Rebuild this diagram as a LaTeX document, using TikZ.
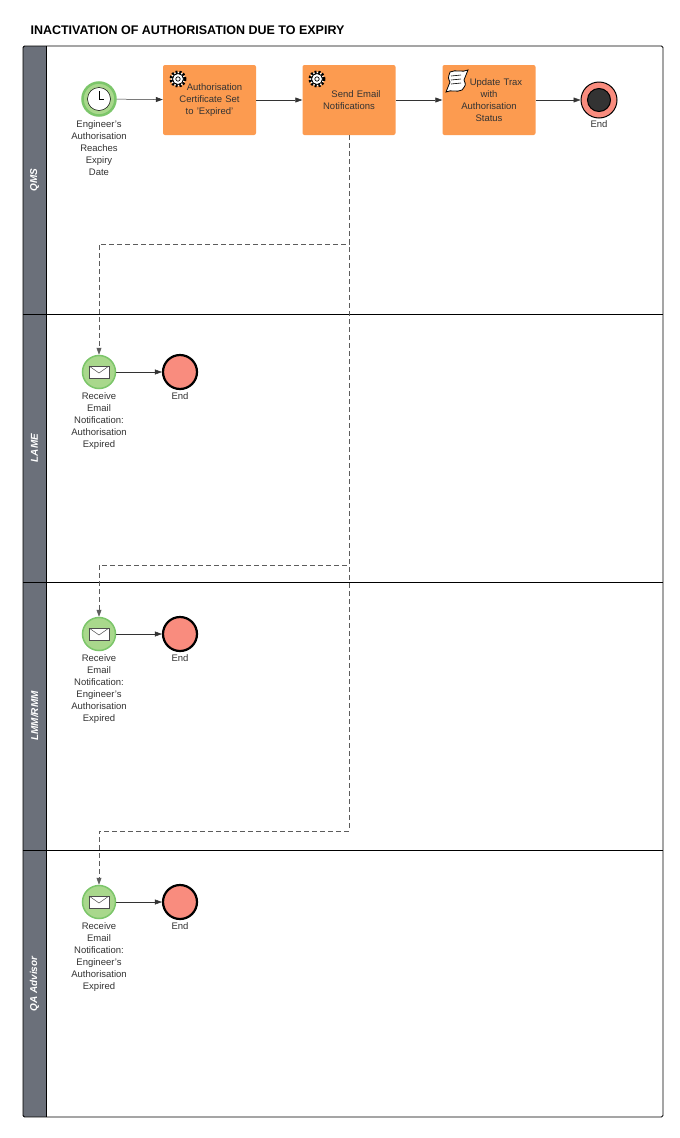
\documentclass[tikz,border=0pt]{standalone}
\usepackage{fontspec}
\setmainfont{Liberation Sans}
\usetikzlibrary{arrows.meta}
\definecolor{lanegrey}{HTML}{6B707A}
\definecolor{taskor}{HTML}{FC9B50}
\definecolor{evgreen}{HTML}{A9D88C}
\definecolor{evgreenb}{HTML}{7CC66A}
\definecolor{endred}{HTML}{F98C7E}
\definecolor{txt}{HTML}{333333}
\begin{document}
\begin{tikzpicture}[x=1pt,y=-1pt,
  lbl/.style={font=\fontsize{9.5}{12}\selectfont,text=txt,align=center},
  task/.style={draw=none,fill=taskor,rounded corners=2pt,minimum width=93pt,minimum height=70pt,lbl,text width=80pt},
  startev/.style={circle,draw=evgreenb,line width=2.5pt,fill=evgreen,minimum size=33pt,inner sep=0},
  endev/.style={circle,draw=black,line width=2.2pt,fill=endred,minimum size=34pt,inner sep=0},
  flow/.style={draw=txt,line width=0.5pt,-{Triangle[length=7pt,width=5pt]}},
  msg/.style={draw=txt!80,line width=0.6pt,dash pattern=on 5pt off 3pt,-{Triangle[length=7pt,width=5pt]}},
  lanetxt/.style={rotate=90,text=white,font=\fontsize{10}{12}\selectfont\bfseries\itshape}]
\useasboundingbox (0,0) rectangle (680,1138);
\fill[white] (0,0) rectangle (680,1138);
\node[anchor=west,font=\fontsize{12.5}{14}\selectfont\bfseries] (title) at (27,30) {INACTIVATION OF AUTHORISATION DUE TO EXPIRY};
% pool
\fill[lanegrey] (23,46) rectangle (46,1117);
\draw[line width=0.8pt,rounded corners=1.5pt] (23,46) rectangle (663,1117);
\foreach \y in {314,582,850} \draw[line width=0.8pt] (23,\y) -- (663,\y);
\draw[line width=0.6pt] (46,46) -- (46,1117);
\node[lanetxt] (l1) at (34.5,180) {QMS};
\node[lanetxt] (l2) at (34.5,448) {LAME};
\node[lanetxt] (l3) at (34.5,716) {LMM/RMM};
\node[lanetxt] (l4) at (34.5,984) {QA Advisor};
% QMS lane
\node[startev] (s) at (99,99) {};
\fill[white] (s.center) circle (11.5pt);
\draw[black,line width=0.5pt] (s.center) circle (11.5pt);
\draw[black,line width=0.6pt] (s.center) -- +(0,-8) (s.center) -- +(5,0);
\node[lbl,anchor=north] (slbl) at (99,117) {Engineer's\\Authorisation\\Reaches\\Expiry\\Date};
\node[task] (t1) at (209.5,100) {\hspace*{10pt}Authorisation Certificate Set to 'Expired'};
\node[task] (t2) at (349,100) {\hspace*{14pt}Send Email\\Notifications};
\node[task] (t3) at (489,100) {\hspace*{14pt}Update Trax\\with\\Authorisation\\Status};
\foreach \cx/\cy in {178/79,317/79}{
  \draw[black,line width=3pt,dash pattern=on 2pt off 1.8pt,fill=white] (\cx,\cy) circle (7pt);
  \draw[black,line width=0.8pt,fill=white] (\cx,\cy) circle (5.5pt);
  \draw[black,line width=0.7pt] (\cx,\cy) circle (2.2pt);}
\draw[black,line width=0.8pt,fill=white] (450,72) .. controls (456,69) and (462,73) .. (468,70) -- (464,80) .. controls (466,85) .. (462,90) .. controls (456,93) and (452,89) .. (446,92) -- (450,82) .. controls (448,78) .. (450,72) -- cycle;
\foreach \yy in {76,80,84} \draw[black,line width=0.6pt] (451,\yy) -- (461,\yy-1);
\node[circle,draw=black,line width=1pt,fill=endred,minimum size=36pt,inner sep=0] (e1) at (599,100) {};
\draw[black,line width=1pt,fill=black!80] (e1.center) circle (11.5pt);
\node[lbl,anchor=north] (e1l) at (599,117) {End};
\draw[flow] (s) -- (t1);
\draw[flow] (t1) -- (t2);
\draw[flow] (t2) -- (t3);
\draw[flow] (t3) -- (e1);
% receiving lanes
\foreach \i/\y/\txt in {2/372/{Receive\\Email\\Notification:\\Authorisation\\Expired},3/634/{Receive\\Email\\Notification:\\Engineer's\\Authorisation\\Expired},4/902/{Receive\\Email\\Notification:\\Engineer's\\Authorisation\\Expired}}{
  \node[startev,line width=1.5pt] (m\i) at (99,\y) {};
  \draw[black!70,line width=0.5pt,fill=white] (89,\y-6) rectangle (109,\y+6);
  \draw[black!70,line width=0.5pt] (89,\y-6) -- (99,\y+1) -- (109,\y-6);
  \node[lbl,anchor=north] (m\i l) at (99,\y+17) {\txt};
  \node[endev] (x\i) at (180,\y) {};
  \node[lbl,anchor=north] (x\i l) at (180,\y+17) {End};
  \draw[flow] (m\i) -- (x\i);
}
\coordinate (b2) at (349,244);
\coordinate (b3) at (349,565);
\coordinate (b4) at (349,831);
\draw[msg] (t2.south) -- (b2) -| (m2.north);
\draw[msg] (t2.south) -- (b3) -| (m3.north);
\draw[msg] (t2.south) -- (b4) -| (m4.north);
\end{tikzpicture}
\end{document}
